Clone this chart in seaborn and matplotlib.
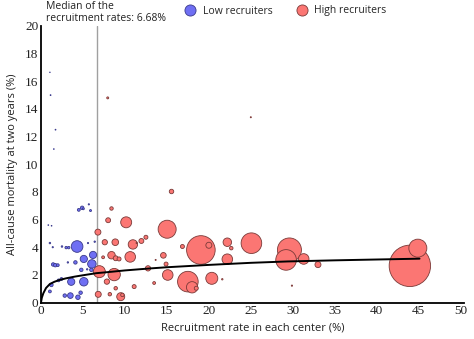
import matplotlib
matplotlib.use("Agg")
import matplotlib.pyplot as plt
from matplotlib.lines import Line2D
import seaborn as sns
import pandas as pd

# ---- data ----
low_rate = [4.9, 4.5, 5.9, 5.7, 4.3, 6.2, 5.1, 6.06, 1.45, 1.7, 2.0, 4.1, 3.0, 3.3, 1.06, 1.4,
            5.6, 2.5, 4.8, 3.6, 5.1, 3.5, 2.83, 4.4, 4.72, 2.44, 2.1, 1.24, 1.06, 3.2, 5.5,
            6.4, 6.0, 1.14, 1.73, 1.53, 1.06, 0.87, 1.26, 5.04]
low_mort = [6.85, 6.7, 6.65, 7.1, 4.05, 3.44, 3.15, 2.79, 2.75, 2.7, 2.7, 2.9, 3.97, 3.97, 4.3, 4.0,
            4.3, 4.05, 2.36, 1.5, 1.5, 0.5, 0.5, 0.38, 0.71, 1.7, 1.6, 1.27, 0.8, 2.9, 2.4,
            4.4, 2.36, 15.0, 12.5, 11.1, 16.65, 5.6, 5.55, 6.78]
low_patients = [3, 2, 1, 0.4, 34, 13, 13, 18, 3, 3, 2, 3, 1.5, 1.5, 0.6, 0.4,
                0.4, 0.6, 3, 13, 18, 8, 3, 5, 3, 2, 2, 3, 2, 0.5, 0.5,
                0.5, 3, 0.2, 0.2, 0.15, 0.1, 0.15, 0.15, 1]

high_rate = [6.78, 8.0, 10.15, 8.4, 7.6, 8.85, 10.95, 11.96, 12.5, 8.4, 8.9, 9.3, 10.63, 7.4,
             6.95, 8.72, 7.85, 6.82, 8.2, 8.9, 9.5, 9.7, 11.1, 12.75, 13.48, 13.66, 14.58, 14.9,
             15.55, 15.03, 16.85, 19.05, 20.0, 22.2, 22.67, 25.07, 22.2, 29.6, 29.2, 31.3, 33.0,
             44.9, 43.95, 15.1, 17.5, 18.0, 18.5, 20.35, 21.6, 29.9, 7.95, 25.0, 11.4]
high_mort = [5.09, 5.95, 5.8, 6.8, 4.36, 4.36, 4.2, 4.45, 4.72, 3.42, 3.2, 3.15, 3.3, 3.27,
             2.23, 2.02, 1.51, 0.59, 0.6, 1.03, 0.42, 0.55, 1.15, 2.47, 1.41, 3.08, 3.41, 2.78,
             8.03, 5.3, 4.05, 3.8, 4.14, 4.36, 3.93, 4.29, 3.13, 3.8, 3.08, 3.15, 2.74,
             3.93, 2.65, 1.99, 1.51, 1.1, 1.03, 1.75, 1.68, 1.22, 14.8, 13.4, 4.3]
high_patients = [9, 6, 30, 3, 7, 11, 22, 6, 4, 14, 6, 4, 28, 2,
                 36, 38, 7, 9, 3, 3, 16, 3, 4, 7, 2, 0.3, 8, 4,
                 5, 81, 4, 204, 9, 18, 3, 106, 28, 144, 106, 28, 9,
                 81, 428, 28, 106, 32, 4, 36, 0.5, 0.4, 1, 0.3, 0.4]

trend_rate = [0.0, 0.1, 0.28, 0.6, 1.06, 1.6, 2.2, 3.0, 4.0, 5.0, 6.58, 8.0, 10.0, 12.9,
              15.0, 20.0, 25.0, 29.4, 35.0, 40.0, 45.1]
trend_mort = [0.0, 0.35, 0.67, 1.05, 1.34, 1.5, 1.63, 1.75, 1.87, 1.97, 2.12, 2.2, 2.32, 2.46,
              2.55, 2.72, 2.87, 2.97, 3.05, 3.11, 3.17]

median_rate = 6.68
x_ticks = [0, 5, 10, 15, 20, 25, 30, 35, 40, 45, 50]
y_ticks = [0, 2, 4, 6, 8, 10, 12, 14, 16, 18, 20]

blue = "#6f6ff3"
red = "#fb7673"

# ---- figure ----
sns.set_theme(style="white")
plt.rcParams["font.family"] = ["Open Sans", "DejaVu Sans"]

fig = plt.figure(figsize=(4.74, 3.39), dpi=100)
ax = fig.add_axes([41 / 474, 1 - 302.5 / 339, (464 - 41) / 474, (302.5 - 26) / 339])

low = pd.DataFrame({"rate": low_rate, "mort": low_mort, "n": low_patients})
high = pd.DataFrame({"rate": high_rate, "mort": high_mort, "n": high_patients})
low = low.sort_values("n", ascending=False)
high = high.sort_values("n", ascending=False)

nmax = max(high_patients)
smax = (1.44 * 20.7) ** 2

ax.axvline(median_rate, color="#a0a0a0", lw=1.0, zorder=1)

sns.scatterplot(data=high, x="rate", y="mort", size="n", sizes=(0, smax),
                size_norm=(0, nmax), color=red, edgecolor="#7a3a38", linewidth=0.6,
                alpha=1, legend=False, ax=ax, zorder=2)
sns.scatterplot(data=low, x="rate", y="mort", size="n", sizes=(0, smax),
                size_norm=(0, nmax), color=blue, edgecolor="#3a3a8a", linewidth=0.6,
                alpha=1, legend=False, ax=ax, zorder=3)

sns.lineplot(x=trend_rate, y=trend_mort, color="black", lw=1.4, ax=ax, zorder=4,
             estimator=None, sort=False)

ax.set_xlim(0, 50.4)
ax.set_ylim(0, 20)
ax.set_xticks(x_ticks)
ax.set_yticks(y_ticks)
serif = {"family": "Liberation Serif", "size": 9.5}
ax.set_xticklabels([str(t) for t in x_ticks], fontdict=serif)
ax.set_yticklabels([str(t) for t in y_ticks], fontdict=serif)
ax.tick_params(axis="both", length=0, pad=2, colors="#222222")

for s in ["top", "right"]:
    ax.spines[s].set_visible(False)
for s in ["left", "bottom"]:
    ax.spines[s].set_color("black")
    ax.spines[s].set_linewidth(1.3)

ax.set_xlabel("Recruitment rate in each center (%)", fontsize=8, color="#222222", labelpad=4)
ax.set_ylabel("All-cause mortality at two years (%)", fontsize=8, color="#222222", labelpad=5)

fig.text(46 / 474, 1 - 1 / 339, "Median of the\nrecruitment rates: 6.68%", ha="left", va="top",
         fontsize=7.5, color="#222222", linespacing=1.15)

handles = [Line2D([], [], marker="o", ls="", markersize=8, markerfacecolor=blue,
                  markeredgecolor="#3a3a8a", markeredgewidth=0.6),
           Line2D([], [], marker="o", ls="", markersize=8, markerfacecolor=red,
                  markeredgecolor="#7a3a38", markeredgewidth=0.6)]
fig.legend(handles, ["Low recruiters", "High recruiters"], ncol=2, frameon=False,
           loc="center left", bbox_to_anchor=(180 / 474, 1 - 11 / 339), fontsize=7.5,
           handletextpad=0.2, columnspacing=1.8, borderaxespad=0, borderpad=0)

fig.savefig("out.png", dpi=100)
